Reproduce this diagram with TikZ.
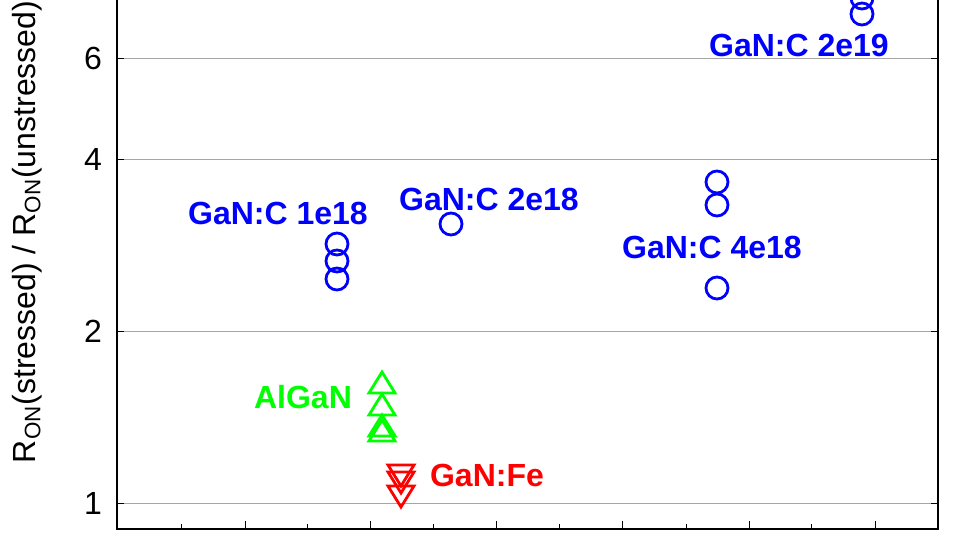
\documentclass[tikz,border=0pt]{standalone}
\usepackage{fontspec}
\setmainfont{Liberation Sans}
\begin{document}
\begin{tikzpicture}[x=0.5pt,y=-0.5pt]
\tikzset{grid line/.style={color=black!35,thin},
  lbl/.style={font=\fontsize{16}{18}\selectfont\bfseries,inner sep=0pt},
  circ/.style={draw=blue,line width=1.4pt,circle,minimum size=11pt,inner sep=0pt},
  tup/.style={draw=green,line width=1.4pt},
  tdn/.style={draw=red,line width=1.4pt}}
\useasboundingbox (0,0) rectangle (960,540);
% horizontal grid at 1, 2, 4, 6
\foreach \y/\ytext in {503/1,331/2,159/4,58/6} {
\draw[grid line] (117,\y) -- (938,\y);
\draw (117,\y) -- (124,\y);
\draw (938,\y) -- (931,\y);
\node[anchor=east,font=\fontsize{16}{18}\selectfont] at (109,\y) {\ytext};
}
% frame
\draw[line width=0.9pt] (117,-5) -- (117,529) -- (938,529) -- (938,-5);
\foreach \x in {245,370,496,622,749,875}
\draw (\x,529) -- (\x,521);
\foreach \x in {181,307,433,559,686,811}
\draw (\x,529) -- (\x,524);
\node[rotate=90,font=\fontsize{16}{18}\selectfont] (ylab) at (27,232)
  {R\textsubscript{ON}(stressed) / R\textsubscript{ON}(unstressed)};
% GaN:C
\foreach \x/\y in {337/244,337/261,337/279,451/224,717/182,717/205,717/288,862/14,862/-2}
\node[circ] at (\x,\y) {};
\node[lbl,text=blue] (c1) at (278,213) {GaN:C 1e18};
\node[lbl,text=blue] (c2) at (489,199) {GaN:C 2e18};
\node[lbl,text=blue] (c4) at (712,247) {GaN:C 4e18};
\node[lbl,text=blue] (c19) at (799,45) {GaN:C 2e19};
% AlGaN
\foreach \y in {385,407,428,433}
\draw[tup] (369,\y+8) -- (395,\y+8) -- (382,\y-13) -- cycle;
\node[lbl,text=green] (alg) at (303,397) {AlGaN};
% GaN:Fe
\foreach \y in {473,480,494}
\draw[tdn] (388,\y-8) -- (414,\y-8) -- (401,\y+13) -- cycle;
\node[lbl,text=red] (fe) at (487,475) {GaN:Fe};
\end{tikzpicture}
\end{document}
